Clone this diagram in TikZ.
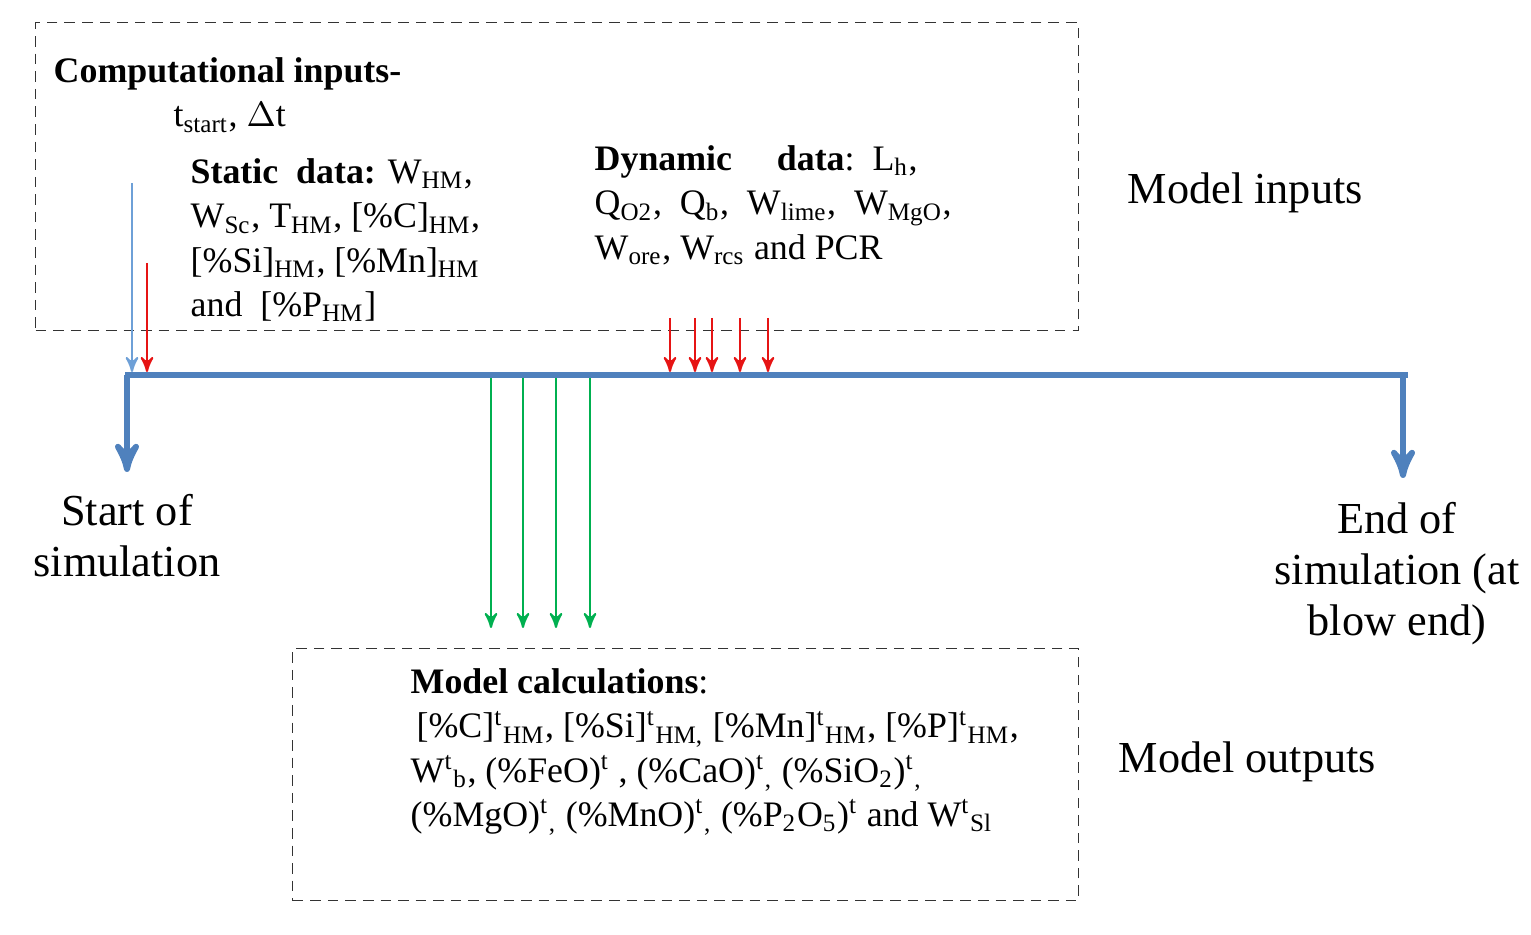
\documentclass[tikz,border=0pt]{standalone}
\usepackage{fontspec}
\setmainfont{Liberation Serif}
\usetikzlibrary{arrows}
\definecolor{lineblue}{RGB}{79,129,189}
\definecolor{lightblue}{RGB}{110,160,215}
\definecolor{arrred}{RGB}{230,20,20}
\definecolor{arrgreen}{RGB}{0,176,80}
\tikzset{
  box/.style={draw, densely dashed, thin, black!80},
  txt/.style={anchor=north west, align=left, font=\fontsize{10.2}{12.6}\selectfont, inner sep=0pt},
  big/.style={align=center, font=\fontsize{12.6}{14.5}\selectfont, inner sep=0pt},
  inarrow/.style={->, >=stealth', arrred, semithick},
  outarrow/.style={->, >=stealth', arrgreen, semithick}
}
\begin{document}
\begin{tikzpicture}[x=0.1mm, y=-0.1mm]
    \useasboundingbox (0,0) rectangle (1531,935);

    % boxes
    \node[box, minimum width=1043*0.1mm, minimum height=308*0.1mm, inner sep=0pt, anchor=north west]
      (InBox) at (35,22) {};
    \node[box, minimum width=786*0.1mm, minimum height=252*0.1mm, inner sep=0pt, anchor=north west]
      (OutBox) at (292,648) {};

    % time line
    \coordinate (Start) at (125,375);
    \coordinate (End) at (1408,375);
    \draw[lineblue, line width=1.6pt] (Start) -- (End);
    \coordinate (StartTip) at (127,472);
    \coordinate (EndTip) at (1403,478);
    \draw[->, >=stealth', lineblue, line width=1.7pt] (127,375) -- (StartTip);
    \draw[->, >=stealth', lineblue, line width=1.7pt] (1403,375) -- (EndTip);

    % input arrows
    \coordinate (CompTop) at (132,183);
    \coordinate (CompEnd) at (132,372);
    \draw[->, >=stealth', lightblue, semithick] (CompTop) -- (CompEnd);
    \coordinate (StatTop) at (147,263);
    \coordinate (StatEnd) at (147,372);
    \draw[inarrow] (StatTop) -- (StatEnd);
    \foreach \x in {670,695,712,740,768} {
      \coordinate (D\x) at (\x,318);
      \coordinate (E\x) at (\x,372);
      \draw[inarrow] (D\x) -- (E\x);
    }

    % output arrows
    \foreach \x in {491,523,556,590} {
      \coordinate (G\x) at (\x,378);
      \coordinate (H\x) at (\x,628);
      \draw[outarrow] (G\x) -- (H\x);
    }

    % texts
    \node[txt] (Comp) at (53,57) {\textbf{Computational inputs-}\\
      \hspace{12mm}t\textsubscript{start}, $\Delta$t};
    \node[txt] (Static) at (190,158) {\textbf{Static\ \ data:} W\textsubscript{HM},\\
      W\textsubscript{Sc}, T\textsubscript{HM}, [\%C]\textsubscript{HM},\\
      {}[\%Si]\textsubscript{HM}, [\%Mn]\textsubscript{HM}\\
      and\ \ [\%P\textsubscript{HM}]};
    \node[txt] (Dyn) at (594,145) {\textbf{Dynamic\quad\ data}:\ \ L\textsubscript{h},\\
      Q\textsubscript{O2}, \ Q\textsubscript{b}, \ W\textsubscript{lime}, \ W\textsubscript{MgO},\\
      W\textsubscript{ore}, W\textsubscript{rcs} and PCR};
    \node[txt] (Calc) at (410,668) {\textbf{Model calculations}:\\
      \,[\%C]\textsuperscript{t}\textsubscript{HM}, [\%Si]\textsuperscript{t}\textsubscript{HM,} [\%Mn]\textsuperscript{t}\textsubscript{HM}, [\%P]\textsuperscript{t}\textsubscript{HM},\\
      W\textsuperscript{t}\textsubscript{b}, (\%FeO)\textsuperscript{t} , (\%CaO)\textsuperscript{t}\textsubscript{,} (\%SiO\textsubscript{2})\textsuperscript{t}\textsubscript{,}\\
      (\%MgO)\textsuperscript{t}\textsubscript{,} (\%MnO)\textsuperscript{t}\textsubscript{,} (\%P\textsubscript{2}O\textsubscript{5})\textsuperscript{t} and W\textsuperscript{t}\textsubscript{Sl}};
    \node[big, anchor=west] (Inputs) at (1127,193) {Model inputs};
    \node[big, anchor=west] (Outputs) at (1118,762) {Model outputs};
    \node[big, anchor=north] (StartLbl) at (127,494) {Start of\\simulation};
    \node[big, anchor=north] (EndLbl) at (1397,502) {End of\\simulation (at\\blow end)};

\end{tikzpicture}
\end{document}
